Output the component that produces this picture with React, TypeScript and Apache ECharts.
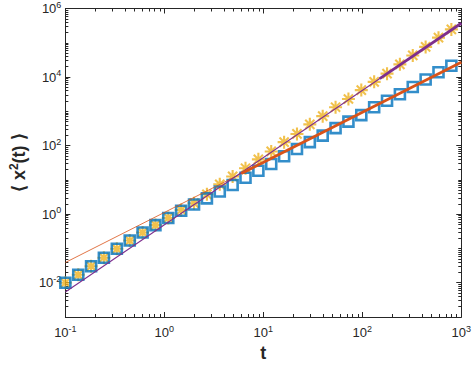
import React, { useEffect, useRef } from "react";
import * as echarts from "echarts";

// time points (log-spaced)
const tValues = [
  0.1, 0.135, 0.182, 0.245, 0.331, 0.447, 0.603, 0.813, 1.096, 1.479, 1.995,
  2.692, 3.631, 4.898, 6.607, 8.913, 12.02, 16.22, 21.88, 29.51, 39.81, 53.7,
  72.44, 97.72, 131.8, 177.8, 239.9, 323.6, 436.5, 588.8, 794.3,
];
// squares (blue)
const squareMSD = [
  0.01, 0.017, 0.0302, 0.0537, 0.0977, 0.17, 0.292, 0.479, 0.776, 1.26, 1.91,
  2.88, 4.57, 7.08, 11.5, 18.4, 29.1, 49.0, 79.4, 126, 195, 324, 501, 776,
  1318, 2042, 3162, 5129, 8511, 13800, 21380,
];
// asterisks (yellow)
const starMSD = [
  0.01, 0.017, 0.0302, 0.0537, 0.0977, 0.17, 0.292, 0.479, 0.776, 1.32, 2.09,
  3.8, 7.41, 12.6, 21.9, 39.8, 67.6, 126, 219, 417, 724, 1318, 2291, 4169,
  7244, 12590, 23440, 42660, 75860, 141300, 245500,
];
// fit lines
const orangeFitT = [0.1, 1000];
const orangeFitY = [0.0389, 26900];
const orangeThickT = [6, 1000];
const orangeThickY = [15.4, 26900];
const purpleFitT = [0.1, 1000];
const purpleFitY = [0.00537, 371500];
const purpleThickT = [150, 1000];
const purpleThickY = [9016, 371500];
// ticks
const xMajorTicks = [0.1, 1, 10, 100, 1000];
const yMajorTicks = [1e-2, 1, 1e2, 1e4, 1e6];
const xDecades = [-1, 0, 1, 2];
const yDecades = [-3, -2, -1, 0, 1, 2, 3, 4, 5];

const L = (v: number) => Math.log10(v);
const minorOf = (decades: number[], majors: number[]) => {
  const out: number[] = [];
  decades.forEach((d) => {
    for (let k = 1; k <= 9; k++) {
      const v = d + Math.log10(k);
      if (k === 1 && majors.some((m) => Math.abs(L(m) - v) < 1e-9)) continue;
      out.push(v);
    }
  });
  return out;
};

const axisColor = "#262626";
const font = "'Liberation Sans', Arial, Helvetica, sans-serif";
const labelRich = {
  b: { fontSize: 13, fontFamily: font, color: axisColor },
  s: { fontSize: 9, fontFamily: font, color: axisColor, padding: [0, 0, 8, 0] },
};
const fmt = (v: number) => `{b|10}{s|${Math.round(v)}}`;

const App: React.FC = () => {
  const ref = useRef<HTMLDivElement>(null);
  useEffect(() => {
    if (!ref.current) return;
    const chart = echarts.init(ref.current, undefined, { renderer: "svg" });
    const xMin = -1, xMax = 3, yMin = -3, yMax = 6;
    const xMaj = xMajorTicks.map(L);
    const xMin2 = minorOf(xDecades, xMajorTicks);
    const yMaj = yMajorTicks.map(L);
    const yMin2 = minorOf(yDecades, yMajorTicks);
    const line = { show: true, onZero: false, lineStyle: { color: axisColor, width: 1 } };
    const noLine = { show: false, onZero: false };
    const tick = (vals: number[], len: number) => ({
      show: true,
      inside: true,
      length: len,
      customValues: vals,
      lineStyle: { color: axisColor, width: 1 },
    });
    const hiddenLabel = { show: false };
    const baseX = { type: "value", min: xMin, max: xMax, splitLine: { show: false } };
    const baseY = { type: "value", min: yMin, max: yMax, splitLine: { show: false } };
    const pts = (ts: number[], ys: number[]) => ts.map((t, i) => [L(t), L(ys[i])]);

    const starPath =
      "path://M0,-6L0,6M-6,0L6,0M-4.24,-4.24L4.24,4.24M-4.24,4.24L4.24,-4.24";

    chart.setOption({
      animation: false,
      backgroundColor: "#ffffff",
      grid: { left: 57, right: 9, top: 5, bottom: 46, containLabel: false },
      xAxis: [
        {
          ...baseX,
          position: "bottom",
          axisLine: line,
          axisTick: tick(xMaj, 5),
          axisLabel: {
            customValues: xMaj,
            formatter: fmt,
            rich: labelRich,
            margin: 7,
          },
          name: "t",
          nameLocation: "middle",
          nameGap: 27,
          nameTextStyle: {
            fontSize: 18,
            fontWeight: "bold",
            fontFamily: font,
            color: axisColor,
          },
        },
        { ...baseX, position: "bottom", axisLine: noLine, axisTick: tick(xMin2, 3), axisLabel: hiddenLabel },
        { ...baseX, position: "top", axisLine: line, axisTick: tick(xMaj, 5), axisLabel: hiddenLabel },
        { ...baseX, position: "top", axisLine: noLine, axisTick: tick(xMin2, 3), axisLabel: hiddenLabel },
      ],
      yAxis: [
        {
          ...baseY,
          position: "left",
          axisLine: line,
          axisTick: tick(yMaj, 5),
          axisLabel: {
            customValues: yMaj,
            formatter: fmt,
            rich: labelRich,
            margin: 4,
          },
          name: "{a|⟨ x}{s|2}{a|(t) ⟩}",
          nameLocation: "middle",
          nameGap: 16,
          nameTextStyle: {
            rich: {
              a: { fontSize: 18, fontWeight: "bold", fontFamily: font, color: axisColor },
              s: { fontSize: 12, fontWeight: "bold", fontFamily: font, color: axisColor, padding: [0, 0, 10, 0] },
            },
          },
        },
        { ...baseY, position: "left", axisLine: noLine, axisTick: tick(yMin2, 3), axisLabel: hiddenLabel },
        { ...baseY, position: "right", axisLine: line, axisTick: tick(yMaj, 5), axisLabel: hiddenLabel },
        { ...baseY, position: "right", axisLine: noLine, axisTick: tick(yMin2, 3), axisLabel: hiddenLabel },
      ],
      series: [
        {
          type: "scatter",
          name: "stars",
          z: 2,
          data: pts(tValues, starMSD),
          symbol: starPath,
          symbolSize: 13,
          itemStyle: { color: "rgba(0,0,0,0)", borderColor: "#EDB120", borderWidth: 2.1 },
        },
        {
          type: "scatter",
          name: "squares",
          z: 3,
          data: pts(tValues, squareMSD),
          symbol: "rect",
          symbolSize: 10,
          itemStyle: { color: "rgba(0,0,0,0)", borderColor: "#0072BD", borderWidth: 2.6 },
        },
        {
          type: "line",
          z: 4,
          data: pts(orangeFitT, orangeFitY),
          showSymbol: false,
          lineStyle: { color: "#D95319", width: 0.8 },
        },
        {
          type: "line",
          z: 4,
          data: pts(purpleFitT, purpleFitY),
          showSymbol: false,
          lineStyle: { color: "#7E2F8E", width: 1.1 },
        },
        {
          type: "line",
          z: 5,
          data: pts(orangeThickT, orangeThickY),
          showSymbol: false,
          lineStyle: { color: "#D95319", width: 2.8 },
        },
        {
          type: "line",
          z: 5,
          data: pts(purpleThickT, purpleThickY),
          showSymbol: false,
          lineStyle: { color: "#7E2F8E", width: 2.8 },
        },
      ],
    });
    return () => chart.dispose();
  }, []);
  return (
    <div
      ref={ref}
      style={{ position: "fixed", left: 0, top: 0, width: 474, height: 367 }}
    />
  );
};

export default App;
